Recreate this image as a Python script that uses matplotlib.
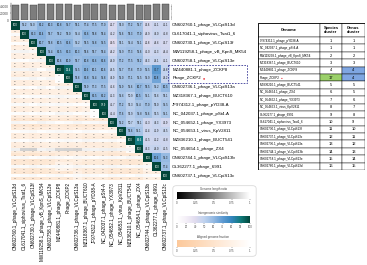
import matplotlib
matplotlib.use("Agg")
import matplotlib.pyplot as plt
import numpy as np
from matplotlib.colors import LinearSegmentedColormap, Normalize
from matplotlib.patches import Rectangle, FancyBboxPatch
import matplotlib.cm as cm

plt.rcParams['font.family'] = ['Liberation Sans', 'DejaVu Sans']

W, H = 367, 265

genomes = ["ON602760.1_phage_VLCpiS13d", "OL617041.1_siphovirus_Tsat1_6",
           "ON602730.1_phage_VLCpiS13f", "MW119258.1_phage_vB_KpnS_MK54",
           "ON602758.1_phage_VLCpiS13e", "MZ440881.1_phage_ZCKP8", "Phage_ZCKP2",
           "ON602736.1_phage_VLCpiS13a", "MZ318367.1_phage_BUCT610",
           "JF974312.1_phage_pYD38-A", "NC_042037.1_phage_pSt4-A",
           "NC_054652.1_phage_YX3973", "NC_054653.1_virus_KpV2811",
           "MZ836210.1_phage_BUCT541", "NC_054654.1_phage_ZX4",
           "ON602744.1_phage_VLCpiS13b", "OL362277.1_phage_6991",
           "ON602737.1_phage_VLCpiS13c"]

genome_len = [45570, 46120, 44890, 47230, 45880, 46950, 46710, 45300, 46400,
              47850, 47310, 44820, 45160, 46090, 44600, 45410, 46220, 45730]

# upper triangle: intergenomic similarity (%), row i -> columns i+1..17
sim_upper = [
    [56.2, 55.0, 61.2, 60.3, 60.8, 59.7, 58.1, 57.4, 57.5, 57.0, 42.7, 54.0, 57.2, 56.7, 43.6, 46.1, 46.1],
    [61.3, 62.4, 58.7, 58.2, 58.0, 55.4, 61.6, 58.8, 58.4, 45.2, 56.6, 58.3, 57.9, 44.9, 47.0, 45.8],
    [60.7, 58.8, 60.5, 61.6, 55.2, 58.5, 59.8, 59.5, 40.5, 54.1, 55.4, 56.1, 42.8, 44.6, 43.7],
    [59.4, 61.5, 61.3, 60.3, 58.6, 58.7, 58.4, 44.2, 55.9, 57.3, 56.6, 45.0, 46.3, 44.4],
    [60.6, 60.9, 58.7, 60.8, 61.6, 61.6, 48.0, 57.2, 57.5, 58.2, 47.3, 48.1, 46.1],
    [93.4, 59.5, 62.6, 60.1, 60.6, 48.5, 56.7, 57.8, 57.0, 56.5, 70.7, 48.8],
    [58.8, 61.8, 59.4, 59.8, 47.9, 56.0, 57.1, 56.5, 55.9, 66.8, 48.2],
    [58.9, 57.3, 57.5, 45.6, 56.9, 56.6, 60.7, 58.5, 55.2, 60.5],
    [61.5, 61.2, 46.3, 55.6, 50.9, 60.5, 55.1, 51.6, 53.1],
    [97.9, 45.7, 57.2, 51.3, 55.4, 57.0, 52.0, 55.5],
    [45.4, 57.6, 51.9, 55.8, 56.6, 51.5, 55.1],
    [56.2, 50.7, 53.1, 45.3, 47.3, 43.9],
    [58.6, 55.1, 46.4, 46.9, 47.5],
    [88.6, 45.5, 46.2, 45.8],
    [47.3, 48.0, 46.5],
    [66.6, 59.3],
    [57.4],
]

# lower triangle: aligned fraction of row genome / column genome (%), length ratio
frac_row = [
    [68], [66, 71], [73, 74, 72], [72, 70, 73, 71], [71, 69, 72, 74, 73],
    [67, 66, 68, 72, 71, 96], [70, 68, 69, 71, 72, 71, 69],
    [69, 73, 71, 70, 73, 74, 72, 71], [69, 70, 72, 70, 74, 72, 71, 69, 75],
    [68, 69, 71, 70, 73, 71, 70, 68, 74, 98],
    [54, 57, 52, 55, 60, 61, 59, 56, 58, 57, 57],
    [66, 70, 65, 68, 70, 69, 67, 70, 67, 70, 69, 71],
    [68, 71, 67, 70, 72, 70, 68, 70, 64, 66, 65, 63, 70],
    [67, 70, 66, 69, 71, 69, 67, 69, 68, 69, 68, 64, 68, 92],
    [55, 57, 53, 56, 58, 66, 65, 70, 64, 63, 62, 56, 58, 57, 58],
    [58, 60, 56, 59, 61, 78, 75, 67, 62, 64, 63, 58, 59, 58, 59, 80],
    [57, 58, 55, 57, 60, 58, 57, 74, 63, 66, 65, 55, 58, 56, 57, 72, 70],
]
frac_col = [
    [69], [67, 72], [72, 75, 73], [73, 70, 72, 72], [73, 70, 74, 73, 74],
    [70, 69, 71, 73, 72, 97], [71, 69, 70, 71, 72, 73, 70],
    [70, 74, 72, 70, 73, 75, 74, 71], [70, 71, 73, 71, 74, 73, 73, 70, 75],
    [69, 70, 72, 71, 74, 72, 72, 69, 75, 98],
    [56, 58, 53, 56, 61, 62, 61, 57, 59, 58, 58],
    [68, 71, 67, 69, 71, 70, 69, 71, 68, 71, 70, 72],
    [69, 72, 68, 71, 73, 71, 70, 71, 65, 67, 66, 64, 71],
    [66, 68, 64, 68, 70, 67, 65, 68, 67, 68, 67, 63, 67, 93],
    [56, 58, 54, 57, 59, 67, 66, 71, 65, 64, 63, 57, 59, 58, 59],
    [59, 61, 57, 60, 62, 80, 77, 68, 63, 65, 64, 59, 60, 59, 60, 81],
    [58, 59, 56, 58, 61, 59, 58, 75, 64, 67, 66, 56, 59, 57, 58, 73, 71],
]
len_ratio = [
    [0.98], [0.99, 0.98], [0.96, 0.95, 0.97], [0.98, 0.99, 0.97, 0.96],
    [0.95, 0.96, 0.94, 0.99, 0.95], [0.96, 0.97, 0.95, 0.98, 0.96, 0.99],
    [0.99, 0.98, 0.99, 0.96, 0.99, 0.95, 0.96],
    [0.97, 0.99, 0.98, 0.98, 0.97, 0.96, 0.97, 0.98],
    [0.98, 0.97, 0.99, 0.97, 0.98, 0.97, 0.98, 0.99, 0.99],
    [0.99, 0.98, 0.99, 0.98, 0.99, 0.96, 0.97, 0.99, 0.98, 0.99],
    [0.96, 0.97, 0.98, 0.95, 0.97, 0.99, 0.98, 0.96, 0.98, 0.97, 0.96],
    [0.99, 0.98, 0.97, 0.99, 0.98, 0.97, 0.98, 0.99, 0.97, 0.98, 0.99, 0.98],
    [0.98, 0.99, 0.97, 0.98, 0.99, 0.98, 0.97, 0.98, 0.96, 0.97, 0.98, 0.97, 0.99],
    [0.94, 0.82, 0.81, 0.95, 0.93, 0.83, 0.82, 0.81, 0.94, 0.95, 0.94, 0.93, 0.95, 0.96],
    [0.98, 0.97, 0.99, 0.98, 0.97, 0.98, 0.99, 0.97, 0.98, 0.99, 0.98, 0.97, 0.98, 0.96, 0.97],
    [0.97, 0.98, 0.96, 0.97, 0.98, 0.97, 0.98, 0.96, 0.97, 0.98, 0.97, 0.96, 0.97, 0.98, 0.97, 0.98],
    [0.99, 0.98, 0.97, 0.99, 0.98, 0.97, 0.99, 0.98, 0.97, 0.98, 0.99, 0.97, 0.98, 0.99, 0.97, 0.98, 0.99],
]

# cluster table
tab_genomes = ["JF974312.1_phage_pYD38-A", "NC_042037.1_phage_pSt4-A",
               "MW119258.1_phage_vB_KpnS_MK54", "MZ318367.1_phage_BUCT610",
               "MZ440881.1_phage_ZCKP8", "Phage_ZCKP2", "MZ836210.1_phage_BUCT541",
               "NC_054654.1_phage_ZX4", "NC_054652.1_phage_YX3973",
               "NC_054653.1_virus_KpV2811", "OL362277.1_phage_6991",
               "OL617041.1_siphovirus_Tsat1_6", "ON602730.1_phage_VLCpiS13f",
               "ON602737.1_phage_VLCpiS13c", "ON602736.1_phage_VLCpiS13a",
               "ON602744.1_phage_VLCpiS13b", "ON602758.1_phage_VLCpiS13e",
               "ON602760.1_phage_VLCpiS13d"]
tab_species = [1, 1, 2, 3, 4, 17, 5, 6, 7, 8, 9, 10, 11, 12, 13, 14, 15, 16]
tab_genus = [1, 1, 2, 3, 4, 4, 5, 5, 6, 7, 8, 9, 10, 11, 12, 13, 14, 15]

sim_levels = [0, 20, 40, 50, 60, 70, 80, 90, 100]
sim_colors = ['#ffffff', '#f4eff7', '#e0dbee', '#bfd2ee', '#94b9e2',
              '#5f9bd2', '#3485bd', '#0f7a7a', '#01463a']
frac_ticks = [0, 0.25, 0.5, 0.75, 1]

sim_cmap = LinearSegmentedColormap.from_list('sim', sim_colors)
frac_cmap = LinearSegmentedColormap.from_list('frac', ['#fcc89a', '#ffffff'])
gray_cmap = LinearSegmentedColormap.from_list('lr', ['#000000', '#ffffff'])


def sim_pos(v):
    return np.interp(v, sim_levels, np.linspace(0, 1, len(sim_levels)))


n = len(genomes)
S = np.full((n, n), 100.0)
for i, row in enumerate(sim_upper):
    for k, v in enumerate(row):
        S[i, i + 1 + k] = v

fig = plt.figure(figsize=(W / 100, H / 100), dpi=100)


def px_axes(x0, y0, x1, y1):
    return fig.add_axes([x0 / W, 1 - y1 / H, (x1 - x0) / W, (y1 - y0) / H])


# ---- heatmap
ax = px_axes(11, 21, 170, 180)
rgb = np.ones((3 * n, n, 3))
for i in range(n):
    for j in range(n):
        if j >= i:
            rgb[3 * i:3 * i + 3, j] = sim_cmap(sim_pos(S[i, j]))[:3]
        else:
            rgb[3 * i, j] = frac_cmap(frac_row[i - 1][j] / 100)[:3]
            rgb[3 * i + 1, j] = gray_cmap(len_ratio[i - 1][j])[:3]
            rgb[3 * i + 2, j] = frac_cmap(frac_col[i - 1][j] / 100)[:3]
ax.imshow(rgb, extent=(0, n, n, 0), aspect='auto', interpolation='nearest')
for i in range(n):
    for j in range(n):
        if j > i:
            v = S[i, j]
            ax.text(j + 0.5, i + 0.5, f"{v:.1f}", ha='center', va='center',
                    fontsize=2.0, color='white' if v >= 75 else '#1a1a1a')
        elif j == i:
            ax.text(j + 0.5, i + 0.5, "100", ha='center', va='center',
                    fontsize=2.0, color='white')
        else:
            ax.text(j + 0.5, i + 0.2, f"{frac_row[i - 1][j] / 100:.2f}", ha='center',
                    va='center', fontsize=1.1, color='#666666')
            ax.text(j + 0.5, i + 0.8, f"{frac_col[i - 1][j] / 100:.2f}", ha='center',
                    va='center', fontsize=1.1, color='#666666')
ax.set_xlim(0, n)
ax.set_ylim(n, 0)
ax.axis('off')

for i, name in enumerate(genomes):
    t = ax.text(n + 0.25, i + 0.5, name, ha='left', va='center', fontsize=3.2,
                clip_on=False)
    if name == "Phage_ZCKP2":
        ax.annotate('\u25CF', xy=(1, 0.5), xycoords=t, xytext=(1.5, 0),
                    textcoords='offset points', va='center', ha='left',
                    fontsize=2.6, color='#e8202a')
    ax.text(i + 0.5, n + 0.2, name, ha='center', va='top', rotation=90,
            fontsize=3.3, clip_on=False)

ax.add_patch(Rectangle((n - 0.25, 5), 9.0, 2, fill=False, ls=(0, (2, 1.5)),
                       lw=0.6, edgecolor='#3a3a98', clip_on=False))

# ---- genome length bars
axb = px_axes(11, 3, 170, 20)
axb.bar(np.arange(n) + 0.5, genome_len, width=0.8, color='#7d7d7d',
        edgecolor='#333333', linewidth=0.3)
axb.set_xlim(0, n)
axb.set_ylim(0, 50000)
axb.set_xticks([])
axb.set_yticks([0, 20000, 40000])
axb.tick_params(axis='y', labelsize=2.3, length=1, width=0.3, pad=0.5,
                colors='#444444')
for s in ['top', 'right', 'bottom']:
    axb.spines[s].set_visible(False)
axb.spines['left'].set_linewidth(0.3)
axb.text(n + 0.2, 25000, "Genome length", rotation=90, ha='left', va='center',
         fontsize=1.6, color='#444444', clip_on=False)

# ---- cluster table
axt = px_axes(258, 23, 365, 170)
col_edges = [0, 62, 84, 107]
head_h = 1.9
nrow = len(tab_genomes)
axt.set_xlim(0, 107)
axt.set_ylim(head_h + nrow, 0)
axt.axis('off')
headers = ["Genome", "Species\ncluster", "Genus\ncluster"]
for c in range(3):
    axt.add_patch(Rectangle((col_edges[c], 0), col_edges[c + 1] - col_edges[c], head_h,
                            facecolor='white', edgecolor='black', lw=0.3))
    axt.text((col_edges[c] + col_edges[c + 1]) / 2, head_h / 2, headers[c],
             ha='center', va='center', fontsize=2.9, fontweight='bold',
             linespacing=1.0)
for r in range(nrow):
    y0 = head_h + r
    cells = [tab_genomes[r], str(tab_species[r]), str(tab_genus[r])]
    fills = ['white', 'white', 'white']
    if tab_genomes[r] == "Phage_ZCKP2":
        fills[1] = '#9bd06a'
    if tab_genus[r] == 4:
        fills[2] = '#7fa6e2'
    for c in range(3):
        axt.add_patch(Rectangle((col_edges[c], y0), col_edges[c + 1] - col_edges[c], 1,
                                facecolor=fills[c], edgecolor='black', lw=0.3))
        if c == 0:
            t = axt.text(col_edges[0] + 1.5, y0 + 0.5, cells[c], ha='left',
                         va='center', fontsize=2.2)
            if cells[c] == "Phage_ZCKP2":
                axt.annotate('\u25CF', xy=(1, 0.5), xycoords=t, xytext=(1.2, 0),
                             textcoords='offset points', va='center', ha='left',
                             fontsize=2.2, color='#e8202a')
        else:
            axt.text((col_edges[c] + col_edges[c + 1]) / 2, y0 + 0.5, cells[c],
                     ha='center', va='center', fontsize=2.9)
axt.add_patch(Rectangle((0, 0), 107, head_h + nrow, fill=False,
                        edgecolor='black', lw=0.6))

# ---- legend box with colour keys
axl = px_axes(172, 185, 257, 257)
axl.axis('off')
axl.add_patch(FancyBboxPatch((0.01, 0.01), 0.98, 0.98,
                             boxstyle='round,pad=0,rounding_size=0.04',
                             transform=axl.transAxes, facecolor='white',
                             edgecolor='#d4d4d4', lw=0.5))

keys = [("Genome length ratio", gray_cmap, 192, frac_ticks, ['0', '0.25', '0.5', '0.75', '1']),
        ("Intergenomic similarity", sim_cmap, 216, list(np.linspace(0, 1, len(sim_levels))),
         [str(v) for v in sim_levels]),
        ("Aligned genome fraction", frac_cmap, 240, frac_ticks, ['0', '0.25', '0.5', '0.75', '1'])]
for title, cmap_k, ytop, ticks, labels in keys:
    cax = px_axes(177, ytop, 250, ytop + 7)
    cb = fig.colorbar(cm.ScalarMappable(norm=Normalize(0, 1), cmap=cmap_k),
                      cax=cax, orientation='horizontal')
    cb.outline.set_visible(False)
    cb.set_ticks(ticks)
    cb.set_ticklabels(labels)
    cax.tick_params(labelsize=2.0, length=1, width=0.3, pad=0.5, colors='#444444')
    fig.text(213.5 / W, 1 - (ytop - 3) / H, title, ha='center', va='center',
             fontsize=2.1, color='#444444')

fig.savefig("out.png", dpi=100)
